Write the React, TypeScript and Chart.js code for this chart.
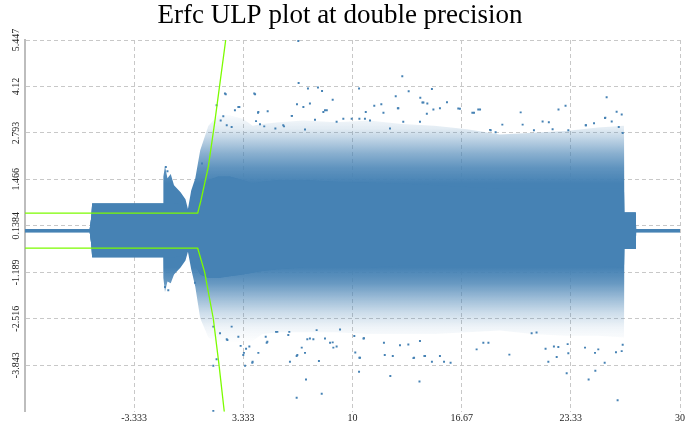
import React, { useEffect, useRef } from 'react';
import { Chart, registerables } from 'chart.js';

Chart.register(...registerables);

const TITLE = 'Erfc ULP plot at double precision';

const xTickValues = [-10, -3.3333, 3.3333, 10, 16.667, 23.333, 30];
const xTickLabels = ['', '-3.333', '3.333', '10', '16.67', '23.33', '30'];
const yTickValues = [-5.17, -3.843, -2.516, -1.189, 0.1384, 1.466, 2.793, 4.12, 5.447];
const yTickLabels = ['', '-3.843', '-2.516', '-1.189', '0.1384', '1.466', '2.793', '4.12', '5.447'];

// envelope of the dense ULP cloud (x positions)
const cloudX = [-10, -6.05, -5.95, -5.9, -1.56, -1.55, -1.45, -1.3, -1.1, -0.9, -0.5, -0.2, -0.05, 0.15, 0.4, 0.7, 1.2, 1.8, 2.5, 3.3, 3.9, 4.5, 5.5, 7, 9, 11, 13, 15, 17, 19, 21, 23, 25, 26.58, 26.6, 27.3, 27.32, 30];
// solid core
const coreTop = [0.045, 0.045, 0.4, 0.78, 0.78, 0.78, 0.78, 0.78, 0.78, 0.78, 0.76, 0.7, 0.58, 0.75, 1.0, 1.25, 1.45, 1.55, 1.55, 1.45, 1.35, 1.4, 1.45, 1.45, 1.4, 1.38, 1.35, 1.3, 1.25, 1.2, 1.2, 1.2, 1.2, 1.2, 0.52, 0.52, 0.045, 0.045];
const coreBot = [-0.045, -0.045, -0.4, -0.76, -0.76, -0.76, -0.76, -0.76, -0.76, -0.76, -0.74, -0.68, -0.55, -0.75, -1.0, -1.25, -1.35, -1.35, -1.3, -1.25, -1.2, -1.15, -1.1, -1.05, -1.05, -1.05, -1.0, -1.0, -1.0, -1.0, -1.0, -1.0, -1.0, -1.05, -0.52, -0.52, -0.045, -0.045];
// outer limit of the speckled fringe
const fringeTop = [0.045, 0.045, 0.4, 0.78, 0.78, 1.55, 1.85, 1.5, 1.62, 1.3, 1.1, 0.9, 0.62, 1.15, 1.5, 2.3, 3.0, 3.3, 3.3, 3.2, 3.0, 3.05, 3.1, 3.15, 3.1, 3.15, 3.05, 3.0, 2.9, 2.75, 2.8, 2.85, 2.95, 3.0, 0.52, 0.52, 0.045, 0.045];
const fringeBot = [-0.045, -0.045, -0.4, -0.76, -0.76, -1.35, -1.75, -1.45, -1.5, -1.25, -1.05, -0.85, -0.6, -1.1, -1.6, -2.5, -3.05, -3.2, -3.2, -3.3, -3.15, -2.95, -2.9, -2.9, -2.9, -2.95, -2.95, -2.95, -2.9, -2.85, -2.95, -3.0, -3.0, -3.05, -0.52, -0.52, -0.045, -0.045];

// isolated samples
const outlierX = [2.26, 1.7, 3.03, 2.82, 4.05, 4.25, 4.82, 4.11, 6.71, 7.28, 7.89, 8.14, 8.79, 6.61, 7.0, 7.4, 6.3, 8.32, 7.71, 6.69, 5.77, 4.61, 5.29, 9.44,
  13.04, 10.4, 13.43, 14.85, 12.64, 14.14, 15.77, 14.27, 14.57, 11.33, 11.76, 12.8, 15.34, 16.56, 17.68, 17.42, 20.27, 22.58, 23.01, 25.52, 26.13, 26.44, 25.42, 19.15, 18.4, 18.74, 21.61, 21.99, 24.26, 24.75, 9.95, 10.76, 11.07,
  2.21, 4.0, 3.09, 4.23, 1.95, 2.11, 2.32, 2.62, 4.35, 5.82, 6.29, 7.1, 8.22, 8.43, 9.03, 10.42, 10.81, 11.89, 12.77, 14.33, 14.54, 14.12, 13.1, 12.29, 14.94, 16.46, 17.32, 17.79, 18.44, 20.39, 21.08, 22.22, 23.18, 24.24, 25.44, 25.83, 26.26, 26.5,
  -1.45, -1.25, 0.38, 1.5, 1.7, 1.5, 2.32, 3.03, 3.17, 3.5, 3.37, 3.44, 3.88, 4.25, 4.76, 4.7, 5.33, 6.08, 6.18, 6.59, 6.9, 7.1, 7.24, 6.59, 7.16, 8.12, 7.95, 8.83, 8.63, 9.24, 7.61,
  10.4, 10.17, 10.46, 12.31, 14.09, 11.97, 12.46, 13.72, 14.43, 14.85, 15.34, 15.59, 15.99, 10.7, 11.92, 12.9, 13.41, 14.12, 19.58, 21.79, 22.3, 22.57, 21.96, 22.47, 23.08, 23.18, 23.14, 24.42, 24.83, 25.4, 26.19, 26.09, 26.44, 26.5, 24.2, 24.81, 25.01, 17.58, 17.99, 18.3, 21.24, 20.94,
  1.5, 1.91, 2.36, 2.62, 3.33, 3.7, 3.9, 4.8, 5.41, 6.14, 6.63, 7.4, 7.81, 8.32, 8.79, 9.03, 10.11, 10.42, 10.67, 13.76, 14.39,
  -1.4, -1.3, 0.81];
const outlierY = [3.9, 3.58, 3.53, 3.44, 3.9, 3.39, 3.41, 3.13, 4.22, 4.06, 4.09, 3.99, 3.74, 3.61, 3.53, 3.63, 3.28, 3.44, 3.17, 5.42, 3.01, 2.98, 2.92, 3.2,
  4.41, 4.06, 3.98, 4.05, 3.84, 3.8, 3.67, 3.66, 3.63, 3.57, 3.61, 3.5, 3.5, 3.48, 3.46, 3.37, 3.38, 3.46, 3.57, 3.81, 3.4, 3.32, 3.22, 3.03, 2.88, 2.81, 3.12, 3.1, 3.01, 3.07, 3.2, 3.2, 3.15,
  3.92, 3.92, 3.53, 3.37, 3.15, 3.27, 3.01, 2.96, 3.04, 2.98, 3.28, 2.89, 3.39, 3.44, 3.11, 3.2, 3.39, 3.37, 3.5, 3.66, 3.34, 3.11, 3.11, 2.92, 3.46, 3.49, 3.37, 3.46, 2.87, 3.03, 2.87, 2.9, 2.87, 3.01, 3.23, 3.12, 2.96, 2.79,
  -1.61, -1.7, -1.49, -3.86, -3.67, -5.15, -3.1, -3.03, -3.29, -3.37, -3.49, -3.86, -3.77, -3.49, -3.2, -3.03, -2.89, -2.98, -3.74, -3.58, -3.34, -3.49, -3.1, -4.77, -4.25, -4.66, -3.72, -3.34, -3.2, -2.82, -3.1,
  -4.03, -3.48, -3.63, -4.15, -4.31, -3.55, -3.58, -3.64, -3.58, -3.74, -3.58, -3.74, -3.77, -3.07, -3.2, -3.27, -3.25, -3.15, -3.54, -3.37, -3.31, -3.32, -3.74, -3.61, -4.07, -3.5, -3.24, -4.25, -4.0, -3.77, -4.84, -3.47, -3.44, -3.26, -3.34, -3.49, -3.39, -3.39, -3.2, -3.2, -2.91, -2.93,
  -2.74, -2.93, -3.12, -2.74, -3.55, -3.31, -3.74, -3.17, -2.89, -2.89, -3.55, -3.08, -2.84, -3.08, -3.19, -3.31, -3.01, -3.63, -3.08, -3.63, -3.58,
  1.82, 1.7, 1.92];

// green reference bounds
const greenUpperX = [-10, 0.547, 0.748, 1.194, 1.603, 2.257];
const greenUpperY = [0.5, 0.5, 0.871, 1.82, 3.15, 5.447];
const greenLowerX = [-10, 0.547, 0.974, 1.5, 1.85, 2.17];
const greenLowerY = [-0.5, -0.5, -1.19, -2.515, -3.84, -5.17];

// density fade of the fringe: [value, opacity]
const upperFade: [number, number][] = [[1.35, 1], [1.8, 0.86], [2.2, 0.64], [2.55, 0.4], [2.9, 0.16], [3.3, 0.03], [3.5, 0]];
const lowerFade: [number, number][] = [[-1.05, 1], [-1.5, 0.82], [-1.95, 0.52], [-2.35, 0.27], [-2.75, 0.09], [-3.2, 0]];

const BLUE = '#4682b4';
const GREEN = '#7cfc00';
const FONT = "'Liberation Serif', 'DejaVu Serif', serif";

const zip = (xs: number[], ys: number[]) => xs.map((x, i) => ({ x, y: ys[i] }));

const fadeFill = (stops: [number, number][]) => (c: any) => {
  const chart = c.chart;
  const area = chart.chartArea;
  const ys = chart.scales.y;
  if (!area || !ys) return 'rgba(70,130,180,0.5)';
  const p0 = ys.getPixelForValue(stops[0][0]);
  const p1 = ys.getPixelForValue(stops[stops.length - 1][0]);
  const g = chart.ctx.createLinearGradient(0, p0, 0, p1);
  stops.forEach(([v, a]) => {
    const t = (ys.getPixelForValue(v) - p0) / (p1 - p0);
    g.addColorStop(Math.min(1, Math.max(0, t)), `rgba(70,130,180,${a})`);
  });
  return g;
};

const yLabelPlugin = {
  id: 'yLabels',
  afterDraw(chart: any) {
    const { ctx } = chart;
    const y = chart.scales.y;
    ctx.save();
    ctx.fillStyle = '#222';
    ctx.font = `10px ${FONT}`;
    ctx.textAlign = 'center';
    ctx.textBaseline = 'middle';
    yTickValues.forEach((v, i) => {
      const label = yTickLabels[i];
      if (!label) return;
      const py = y.getPixelForValue(v);
      ctx.save();
      ctx.translate(16.5, py);
      ctx.rotate(-Math.PI / 2);
      ctx.fillText(label, 0, 0);
      ctx.restore();
    });
    ctx.restore();
  },
};

export default function App() {
  const ref = useRef<HTMLCanvasElement | null>(null);
  useEffect(() => {
    if (!ref.current) return;
    const band = (data: number[], fill: any, color: any) => ({
      type: 'line' as const,
      data: zip(cloudX, data),
      borderWidth: 0,
      borderColor: 'rgba(0,0,0,0)',
      backgroundColor: color,
      pointRadius: 0,
      fill,
      tension: 0,
      order: 3,
    });
    const chart = new Chart(ref.current, {
      type: 'line',
      data: {
        datasets: [
          band(coreTop, 1, BLUE),
          band(coreBot, false, BLUE),
          // fringes reach across the core so no seam shows at the core edge
          band(fringeTop, 1, fadeFill(upperFade)),
          band(fringeBot, 0, fadeFill(lowerFade)),
          {
            type: 'line',
            data: zip(outlierX, outlierY),
            showLine: false,
            pointStyle: 'rect',
            pointRadius: 1.4,
            pointBorderWidth: 0,
            pointBackgroundColor: BLUE,
            borderColor: BLUE,
            order: 1,
          } as any,
          {
            type: 'line',
            data: zip(greenUpperX, greenUpperY),
            borderColor: GREEN,
            borderWidth: 1.3,
            pointRadius: 0,
            fill: false,
            tension: 0,
            order: 0,
          },
          {
            type: 'line',
            data: zip(greenLowerX, greenLowerY),
            borderColor: GREEN,
            borderWidth: 1.3,
            pointRadius: 0,
            fill: false,
            tension: 0,
            order: 0,
          },
        ] as any,
      },
      options: {
        responsive: false,
        animation: false,
        layout: { padding: { left: 0, right: 20, top: 0, bottom: 0 } },
        plugins: {
          legend: { display: false },
          tooltip: { enabled: false },
          title: {
            display: true,
            text: TITLE,
            color: '#000',
            font: { family: FONT, size: 27, weight: 'normal' },
            padding: { top: 0, bottom: 7.6 },
          },
        },
        scales: {
          x: {
            type: 'linear',
            min: -10,
            max: 30,
            afterBuildTicks: (s: any) => {
              s.ticks = xTickValues.map((v) => ({ value: v }));
            },
            afterFit: (s: any) => {
              s.height = 20.3;
            },
            ticks: {
              autoSkip: false,
              maxRotation: 0,
              padding: 1,
              color: '#222',
              font: { family: FONT, size: 10 },
              callback: (_v: any, i: number) => xTickLabels[i],
            },
            grid: { color: '#c8c8c8', lineWidth: 1, drawTicks: false },
            border: { display: false, dash: [4, 3] },
          },
          y: {
            type: 'linear',
            min: -5.17,
            max: 5.447,
            afterBuildTicks: (s: any) => {
              s.ticks = yTickValues.map((v) => ({ value: v }));
            },
            afterFit: (s: any) => {
              s.width = 25;
            },
            ticks: { display: false },
            grid: {
              color: (c: any) => (c.tick && c.tick.value === yTickValues[0] ? 'rgba(0,0,0,0)' : '#c8c8c8'),
              lineWidth: 1,
              drawTicks: false,
            },
            border: { display: true, color: '#bdbdbd', width: 2, dash: [4, 3] },
          },
        },
      } as any,
      plugins: [yLabelPlugin],
    });
    return () => chart.destroy();
  }, []);
  return (
    <div style={{ position: 'fixed', left: 0, top: 0, width: 700, height: 432, background: '#fff' }}>
      <canvas ref={ref} width={700} height={432} />
    </div>
  );
}
